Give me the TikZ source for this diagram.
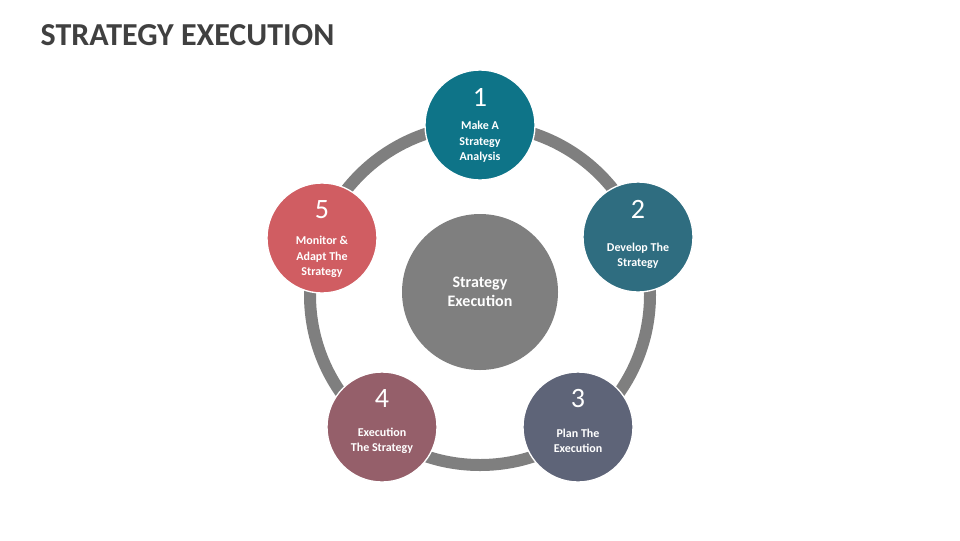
\documentclass[tikz,border=0pt]{standalone}
\usepackage{fontspec}
\setmainfont{Carlito}
\definecolor{cA}{HTML}{0E7488}
\definecolor{cB}{HTML}{2F6D80}
\definecolor{cC}{HTML}{5E6478}
\definecolor{cD}{HTML}{955F6A}
\definecolor{cE}{HTML}{D05D62}
\definecolor{ring}{HTML}{7F7F7F}
\definecolor{title}{HTML}{404040}
\begin{document}
\begin{tikzpicture}[x=0.75pt,y=-0.75pt,
  stepc/.style={circle,minimum size=110*0.75pt,inner sep=0pt,draw=white,line width=1pt,text=white,align=center,font=\fontsize{9}{10.5}\selectfont\bfseries},
  num/.style={text=white,font=\fontsize{21}{21}\selectfont}]
\useasboundingbox (0,0) rectangle (960,540);
\node[anchor=west,text=title,font=\fontsize{24}{24}\selectfont\bfseries] (t) at (36,35) {STRATEGY EXECUTION};
\node[circle,minimum size=340*0.75pt,draw=ring,line width=9pt] (ringc) at (480,295) {};
\node[circle,fill=ring,minimum size=156*0.75pt,text=white,align=center,font=\fontsize{12}{14}\selectfont\bfseries] (c) at (480,292) {Strategy\\Execution};
\foreach \n/\x/\y/\col/\txt in {1/480/125/cA/{Make A\\Strategy\\Analysis},2/638/237/cB/{Develop The\\Strategy},3/578/427/cC/{Plan The\\Execution},4/382/427/cD/{Execution\\The Strategy},5/322/238/cE/{Monitor \&\\Adapt The\\Strategy}}{
  \node[stepc,fill=\col] (s\n) at (\x,\y) {};
  \node[num] (n\n) at (\x,\y-28) {\n};
}
\node[text=white,align=center,font=\fontsize{9}{11.5}\selectfont\bfseries] (l1) at (480,142) {Make A\\Strategy\\Analysis};
\node[text=white,align=center,font=\fontsize{9}{11.5}\selectfont\bfseries] (l2) at (638,256) {Develop The\\Strategy};
\node[text=white,align=center,font=\fontsize{9}{11.5}\selectfont\bfseries] (l3) at (578,441) {Plan The\\Execution};
\node[text=white,align=center,font=\fontsize{9}{11.5}\selectfont\bfseries] (l4) at (382,441) {Execution\\The Strategy};
\node[text=white,align=center,font=\fontsize{9}{11.5}\selectfont\bfseries] (l5) at (322,257) {Monitor \&\\Adapt The\\Strategy};
\end{tikzpicture}
\end{document}
